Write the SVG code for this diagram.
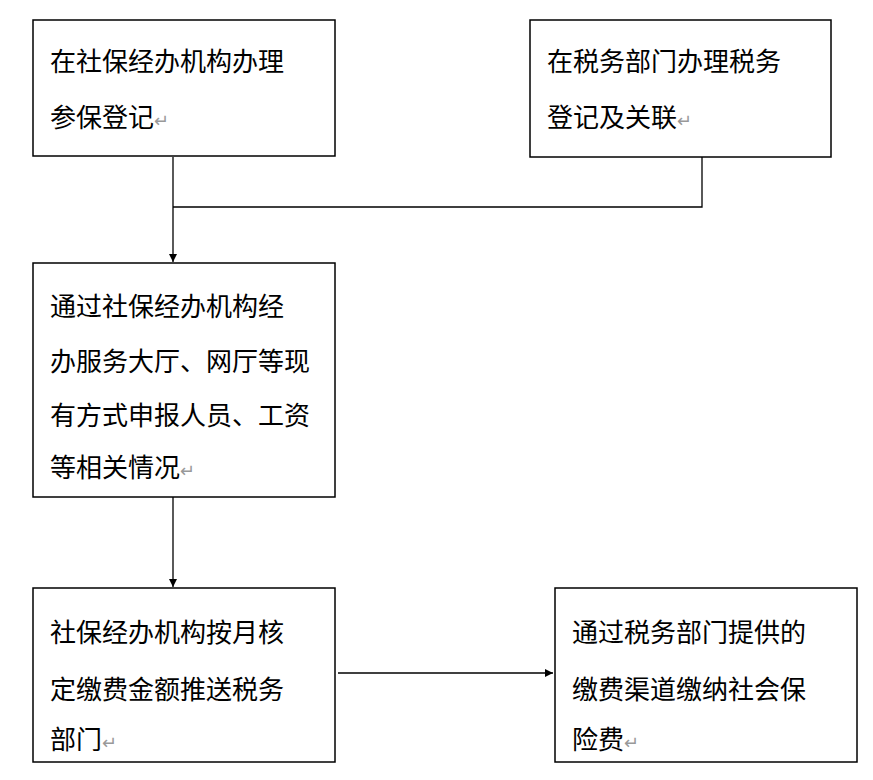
<svg xmlns="http://www.w3.org/2000/svg" width="873" height="780" viewBox="0 0 873 780">
<defs>
<style>
.b{fill:#fff;stroke:#000;stroke-width:1.5}
.t{font-family:"Noto Sans CJK SC","Liberation Sans",sans-serif;font-size:26px;fill:#000}
.r{fill:#999;font-size:18px}
.c{stroke:#000;stroke-width:1.3;fill:none}
</style>
<marker id="a" viewBox="0 0 10 10" refX="10" refY="5" markerWidth="8" markerHeight="8" markerUnits="userSpaceOnUse" orient="auto"><path d="M0,0 L10,5 L0,10 z" fill="#000"/></marker>
</defs>
<g id="n1"><rect class="b" x="33" y="20" width="302" height="136"/>
<text class="t" x="50" y="71">在社保经办机构办理</text><text class="t" x="50" y="127">参保登记<tspan class="r">↵</tspan></text></g>
<g id="n2"><rect class="b" x="530" y="20" width="301" height="137"/>
<text class="t" x="547" y="71">在税务部门办理税务</text><text class="t" x="547" y="127">登记及关联<tspan class="r">↵</tspan></text></g>
<g id="n3"><rect class="b" x="33" y="263" width="302" height="234"/>
<text class="t" x="50" y="316">通过社保经办机构经</text><text class="t" x="50" y="371">办服务大厅、网厅等现</text><text class="t" x="50" y="425">有方式申报人员、工资</text><text class="t" x="50" y="477">等相关情况<tspan class="r">↵</tspan></text></g>
<g id="n4"><rect class="b" x="33" y="588" width="302" height="174"/>
<text class="t" x="50" y="642">社保经办机构按月核</text><text class="t" x="50" y="699">定缴费金额推送税务</text><text class="t" x="50" y="749">部门<tspan class="r">↵</tspan></text></g>
<g id="n5"><rect class="b" x="555" y="588" width="302" height="174"/>
<text class="t" x="572" y="642">通过税务部门提供的</text><text class="t" x="572" y="699">缴费渠道缴纳社会保</text><text class="t" x="572" y="749">险费<tspan class="r">↵</tspan></text></g>
<g id="connectors">
<path class="c" d="M173,157 V262" marker-end="url(#a)"/>
<path class="c" d="M702,157 V207 H173"/>
<path class="c" d="M173,497 V587" marker-end="url(#a)"/>
<path class="c" d="M338,673 H553" marker-end="url(#a)"/>
</g>
</svg>
